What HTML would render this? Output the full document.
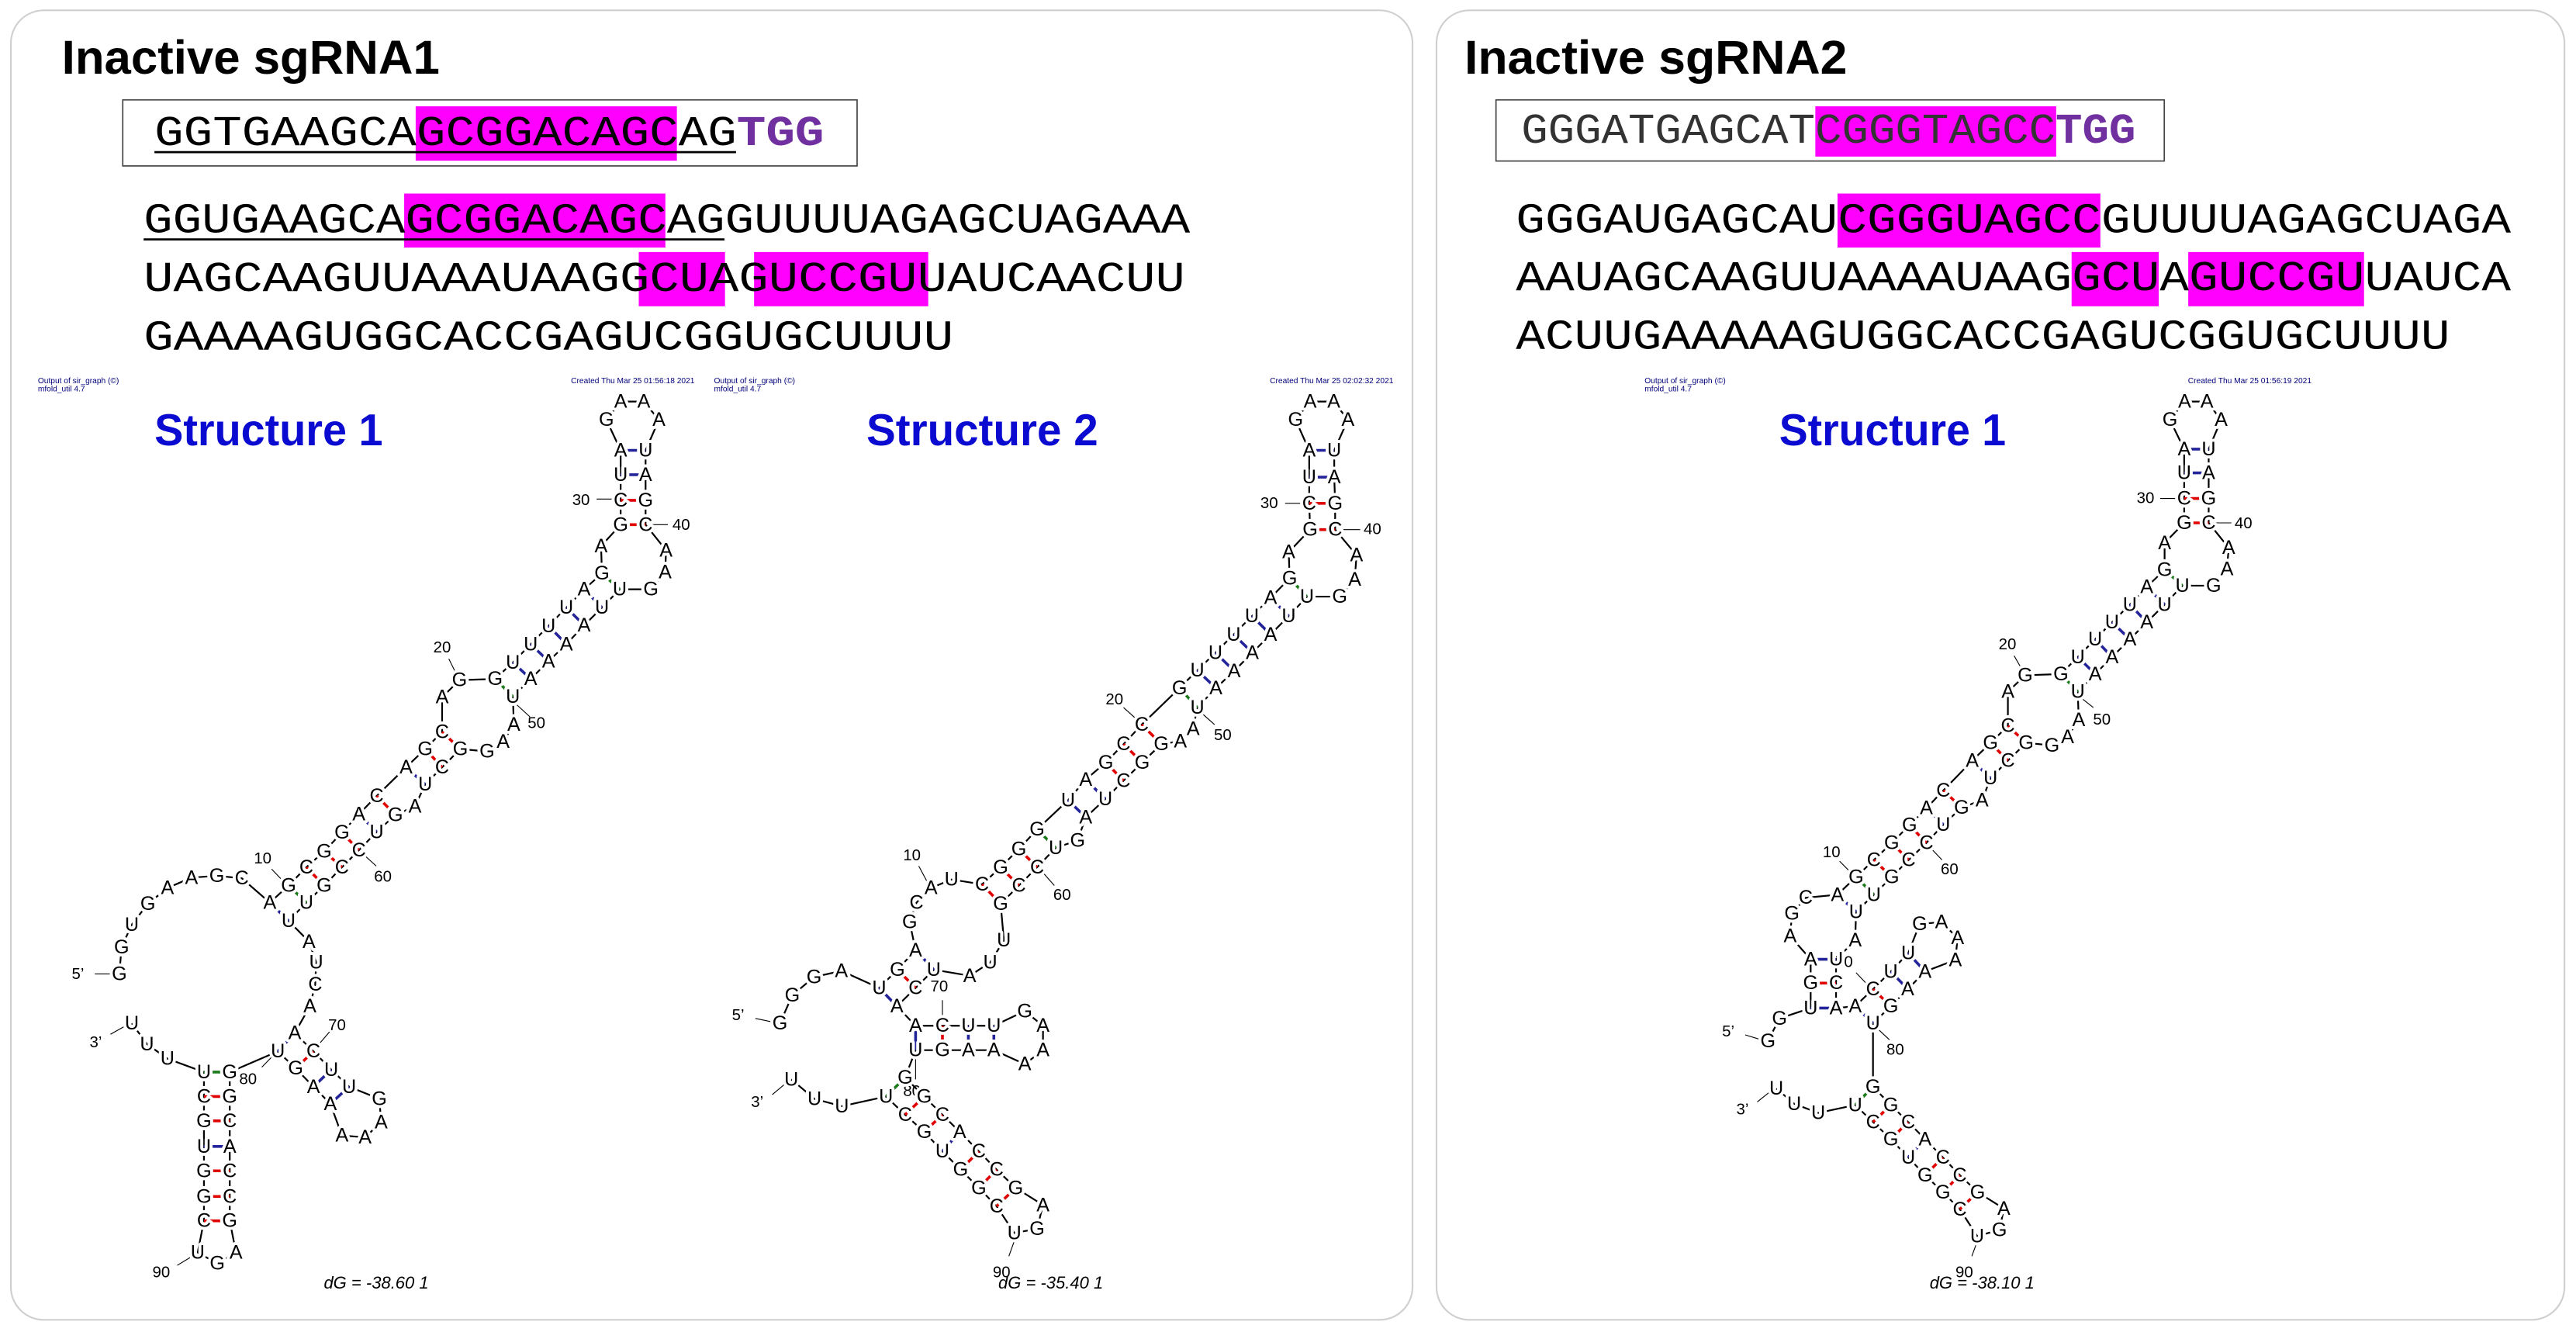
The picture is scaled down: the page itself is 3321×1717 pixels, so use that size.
<!DOCTYPE html>
<html><head><meta charset="utf-8"><style>
html,body{margin:0;padding:0;background:#fff}
svg{display:block}
.nt{font-family:"Liberation Sans",Arial,sans-serif;font-size:32px;text-anchor:middle;dominant-baseline:central;fill:#000;stroke:#fff;stroke-width:10px;paint-order:stroke;stroke-linejoin:round}
.num{font-family:"Liberation Sans",Arial,sans-serif;font-size:26px;text-anchor:middle;dominant-baseline:central;fill:#000}
.bb{fill:none;stroke:#000;stroke-width:2.2;vector-effect:non-scaling-stroke;stroke-linejoin:round}
.tk{stroke:#000;stroke-width:1.1;vector-effect:non-scaling-stroke}
.r{stroke:#e00000;stroke-width:3.6;vector-effect:non-scaling-stroke}
.b{stroke:#24249a;stroke-width:3.6;vector-effect:non-scaling-stroke}
.g{stroke:#1d7a1d;stroke-width:3.6;vector-effect:non-scaling-stroke}
.hd{font-family:"Liberation Sans",Arial,sans-serif;font-size:13px;fill:#00007a}
.dg{font-family:"Liberation Sans",Arial,sans-serif;font-size:28px;font-style:italic;text-anchor:middle;fill:#000}
.ttl{font-family:"Liberation Sans",Arial,sans-serif;font-weight:bold;fill:#000}
.st{font-family:"Liberation Sans",Arial,sans-serif;font-weight:bold;fill:#0a0ad0}
.seq{font-family:"Liberation Mono","Courier New",monospace;fill:#000}
</style></head><body>
<svg width="3321" height="1717" viewBox="0 0 1568 810.7" xmlns="http://www.w3.org/2000/svg">
<rect x="0" y="0" width="1568" height="811" fill="#fff"/>
<rect x="6.6" y="6.3" width="853.2" height="797" rx="20" fill="none" stroke="#cfcfcf" stroke-width="1"/>
<rect x="874.4" y="6.3" width="686.6" height="797" rx="20" fill="none" stroke="#cfcfcf" stroke-width="1"/>

<text class="ttl" x="37.6" y="44.8" font-size="29" textLength="230" lengthAdjust="spacingAndGlyphs">Inactive sgRNA1</text>
<rect x="74.7" y="60.8" width="447" height="40.2" fill="none" stroke="#444" stroke-width="0.8"/>
<rect x="253" y="64.7" width="159" height="33.1" fill="#ff00ff"/>
<text class="seq" x="94" y="88.3" font-size="26" textLength="407.6" lengthAdjust="spacingAndGlyphs">GGTGAAGCAGCGGACAGCAG<tspan fill="#7030a0" font-weight="bold">TGG</tspan></text>
<line x1="94" y1="92.6" x2="448" y2="92.6" stroke="#000" stroke-width="1.3"/>

<rect x="246" y="117.8" width="159" height="32.9" fill="#ff00ff"/>
<rect x="388.8" y="153.4" width="52.5" height="33" fill="#ff00ff"/>
<rect x="459" y="153.4" width="106" height="33" fill="#ff00ff"/>
<text class="seq" x="87.4" y="141.3" font-size="26" textLength="637" lengthAdjust="spacingAndGlyphs">GGUGAAGCAGCGGACAGCAGGUUUUAGAGCUAGAAA</text>
<line x1="87.4" y1="145.7" x2="441" y2="145.7" stroke="#000" stroke-width="1.3"/>
<text class="seq" x="87.4" y="177" font-size="26" textLength="634" lengthAdjust="spacingAndGlyphs">UAGCAAGUUAAAUAAGGCUAGUCCGUUAUCAACUU</text>
<text class="seq" x="87.4" y="212.7" font-size="26" textLength="493" lengthAdjust="spacingAndGlyphs">GAAAAGUGGCACCGAGUCGGUGCUUUU</text>

<text class="ttl" x="891.4" y="44.8" font-size="29" textLength="233" lengthAdjust="spacingAndGlyphs">Inactive sgRNA2</text>
<rect x="910.6" y="60.8" width="406.8" height="37.2" fill="none" stroke="#444" stroke-width="0.8"/>
<rect x="1105" y="64.7" width="146.6" height="30.6" fill="#ff00ff"/>
<text class="seq" x="926" y="86.8" font-size="26" fill="#333" textLength="374" lengthAdjust="spacingAndGlyphs"><tspan fill="#333">GGGATGAGCATCGGGTAGCC</tspan><tspan fill="#7030a0" font-weight="bold">TGG</tspan></text>
<rect x="1118.5" y="117.8" width="160" height="32.9" fill="#ff00ff"/>
<rect x="1261" y="153.4" width="53" height="33" fill="#ff00ff"/>
<rect x="1332" y="153.4" width="107" height="33" fill="#ff00ff"/>
<text class="seq" x="922.7" y="141.3" font-size="26" textLength="605.7" lengthAdjust="spacingAndGlyphs">GGGAUGAGCAUCGGGUAGCCGUUUUAGAGCUAGA</text>
<text class="seq" x="922.7" y="176.6" font-size="26" textLength="605.7" lengthAdjust="spacingAndGlyphs">AAUAGCAAGUUAAAAUAAGGCUAGUCCGUUAUCA</text>
<text class="seq" x="922.7" y="212.3" font-size="26" textLength="568.6" lengthAdjust="spacingAndGlyphs">ACUUGAAAAAGUGGCACCGAGUCGGUGCUUUU</text>

<text class="st" x="94" y="271" font-size="27" textLength="139" lengthAdjust="spacingAndGlyphs">Structure 1</text>
<text class="st" x="527.4" y="271" font-size="27" textLength="141" lengthAdjust="spacingAndGlyphs">Structure 2</text>
<text class="st" x="1083" y="271" font-size="27" textLength="138" lengthAdjust="spacingAndGlyphs">Structure 1</text>

<g transform="translate(0 226.6) scale(0.271 0.371)">
<text class="hd" transform="translate(85 18) scale(1.37 1)">Output of sir_graph (©)</text>
<text class="hd" transform="translate(85 31) scale(1.37 1)">mfold_util 4.7</text>
<text class="hd" transform="translate(1560 18) scale(1.37 1)" text-anchor="end">Created Thu Mar 25 01:56:18 2021</text>
<polyline class="bb" points="268,987 273,943 296,906 332,872 376,846 430,829 487,826 543,830 606,870 648,842 688,812 728,786 768,755 806,725 846,695 912,648 955,618 993,590 993,533 1032,505 1112,503 1152,476 1192,446 1232,416 1272,386 1312,356 1352,330 1350,285 1394,250 1394,210 1394,168 1394,128 1362,78 1394,48 1446,48 1480,78 1450,128 1450,168 1450,210 1450,250 1496,292 1494,328 1462,356 1392,356 1352,386 1312,415 1272,446 1232,474 1192,503 1152,532 1154,578 1130,606 1094,622 1034,618 993,648 955,676 932,712 888,726 846,754 806,784 768,812 728,842 688,870 648,900 694,934 710,968 708,1004 696,1040 662,1084 704,1114 744,1144 784,1172 852,1192 856,1230 820,1255 768,1252 742,1200 704,1172 664,1142 624,1114 516,1148 516,1188 516,1228 516,1270 516,1310 516,1352 516,1392 530,1444 488,1462 444,1444 458,1392 458,1352 458,1310 458,1270 458,1228 458,1188 458,1148 376,1126 330,1102 296,1068"/>
<line class="b" x1="606" y1="870" x2="648" y2="900"/>
<line class="g" x1="648" y1="842" x2="688" y2="870"/>
<line class="r" x1="688" y1="812" x2="728" y2="842"/>
<line class="r" x1="728" y1="786" x2="768" y2="812"/>
<line class="r" x1="768" y1="755" x2="806" y2="784"/>
<line class="b" x1="806" y1="725" x2="846" y2="754"/>
<line class="r" x1="846" y1="695" x2="888" y2="726"/>
<line class="b" x1="912" y1="648" x2="955" y2="676"/>
<line class="r" x1="955" y1="618" x2="993" y2="648"/>
<line class="r" x1="993" y1="590" x2="1034" y2="618"/>
<line class="g" x1="1112" y1="503" x2="1152" y2="532"/>
<line class="b" x1="1152" y1="476" x2="1192" y2="503"/>
<line class="b" x1="1192" y1="446" x2="1232" y2="474"/>
<line class="b" x1="1232" y1="416" x2="1272" y2="446"/>
<line class="b" x1="1272" y1="386" x2="1312" y2="415"/>
<line class="b" x1="1312" y1="356" x2="1352" y2="386"/>
<line class="g" x1="1352" y1="330" x2="1392" y2="356"/>
<line class="r" x1="1394" y1="250" x2="1450" y2="250"/>
<line class="r" x1="1394" y1="210" x2="1450" y2="210"/>
<line class="b" x1="1394" y1="168" x2="1450" y2="168"/>
<line class="b" x1="1394" y1="128" x2="1450" y2="128"/>
<line class="b" x1="662" y1="1084" x2="624" y2="1114"/>
<line class="r" x1="704" y1="1114" x2="664" y2="1142"/>
<line class="b" x1="744" y1="1144" x2="704" y2="1172"/>
<line class="b" x1="784" y1="1172" x2="742" y2="1200"/>
<line class="g" x1="516" y1="1148" x2="458" y2="1148"/>
<line class="r" x1="516" y1="1188" x2="458" y2="1188"/>
<line class="r" x1="516" y1="1228" x2="458" y2="1228"/>
<line class="b" x1="516" y1="1270" x2="458" y2="1270"/>
<line class="r" x1="516" y1="1310" x2="458" y2="1310"/>
<line class="r" x1="516" y1="1352" x2="458" y2="1352"/>
<line class="r" x1="516" y1="1392" x2="458" y2="1392"/>
<line class="tk" x1="610" y1="815" x2="640" y2="838"/>
<line class="tk" x1="1008" y1="470" x2="1025" y2="495"/>
<line class="tk" x1="1340" y1="208" x2="1378" y2="208"/>
<line class="tk" x1="1465" y1="250" x2="1500" y2="250"/>
<line class="tk" x1="1160" y1="545" x2="1190" y2="565"/>
<line class="tk" x1="815" y1="790" x2="845" y2="810"/>
<line class="tk" x1="740" y1="1082" x2="712" y2="1106"/>
<line class="tk" x1="588" y1="1140" x2="612" y2="1122"/>
<line class="tk" x1="398" y1="1465" x2="432" y2="1450"/>
<line class="tk" x1="213" y1="987" x2="252" y2="987"/>
<line class="tk" x1="248" y1="1086" x2="282" y2="1072"/>
<g class="num">
<text transform="translate(590 798) scale(1.37 1)">10</text>
<text transform="translate(993 452) scale(1.37 1)">20</text>
<text transform="translate(1305 210) scale(1.37 1)">30</text>
<text transform="translate(1530 251) scale(1.37 1)">40</text>
<text transform="translate(1205 576) scale(1.37 1)">50</text>
<text transform="translate(860 828) scale(1.37 1)">60</text>
<text transform="translate(757 1072) scale(1.37 1)">70</text>
<text transform="translate(557 1160) scale(1.37 1)">80</text>
<text transform="translate(362 1477) scale(1.37 1)">90</text>
<text transform="translate(175 988) scale(1.37 1)">5’</text>
<text transform="translate(215 1100) scale(1.37 1)">3’</text>
</g>
<g class="nt">
<text transform="translate(268 987) scale(1.37 1)">G</text>
<text transform="translate(273 943) scale(1.37 1)">G</text>
<text transform="translate(296 906) scale(1.37 1)">U</text>
<text transform="translate(332 872) scale(1.37 1)">G</text>
<text transform="translate(376 846) scale(1.37 1)">A</text>
<text transform="translate(430 829) scale(1.37 1)">A</text>
<text transform="translate(487 826) scale(1.37 1)">G</text>
<text transform="translate(543 830) scale(1.37 1)">C</text>
<text transform="translate(606 870) scale(1.37 1)">A</text>
<text transform="translate(648 842) scale(1.37 1)">G</text>
<text transform="translate(688 812) scale(1.37 1)">C</text>
<text transform="translate(728 786) scale(1.37 1)">G</text>
<text transform="translate(768 755) scale(1.37 1)">G</text>
<text transform="translate(806 725) scale(1.37 1)">A</text>
<text transform="translate(846 695) scale(1.37 1)">C</text>
<text transform="translate(912 648) scale(1.37 1)">A</text>
<text transform="translate(955 618) scale(1.37 1)">G</text>
<text transform="translate(993 590) scale(1.37 1)">C</text>
<text transform="translate(993 533) scale(1.37 1)">A</text>
<text transform="translate(1032 505) scale(1.37 1)">G</text>
<text transform="translate(1112 503) scale(1.37 1)">G</text>
<text transform="translate(1152 476) scale(1.37 1)">U</text>
<text transform="translate(1192 446) scale(1.37 1)">U</text>
<text transform="translate(1232 416) scale(1.37 1)">U</text>
<text transform="translate(1272 386) scale(1.37 1)">U</text>
<text transform="translate(1312 356) scale(1.37 1)">A</text>
<text transform="translate(1352 330) scale(1.37 1)">G</text>
<text transform="translate(1350 285) scale(1.37 1)">A</text>
<text transform="translate(1394 250) scale(1.37 1)">G</text>
<text transform="translate(1394 210) scale(1.37 1)">C</text>
<text transform="translate(1394 168) scale(1.37 1)">U</text>
<text transform="translate(1394 128) scale(1.37 1)">A</text>
<text transform="translate(1362 78) scale(1.37 1)">G</text>
<text transform="translate(1394 48) scale(1.37 1)">A</text>
<text transform="translate(1446 48) scale(1.37 1)">A</text>
<text transform="translate(1480 78) scale(1.37 1)">A</text>
<text transform="translate(1450 128) scale(1.37 1)">U</text>
<text transform="translate(1450 168) scale(1.37 1)">A</text>
<text transform="translate(1450 210) scale(1.37 1)">G</text>
<text transform="translate(1450 250) scale(1.37 1)">C</text>
<text transform="translate(1496 292) scale(1.37 1)">A</text>
<text transform="translate(1494 328) scale(1.37 1)">A</text>
<text transform="translate(1462 356) scale(1.37 1)">G</text>
<text transform="translate(1392 356) scale(1.37 1)">U</text>
<text transform="translate(1352 386) scale(1.37 1)">U</text>
<text transform="translate(1312 415) scale(1.37 1)">A</text>
<text transform="translate(1272 446) scale(1.37 1)">A</text>
<text transform="translate(1232 474) scale(1.37 1)">A</text>
<text transform="translate(1192 503) scale(1.37 1)">A</text>
<text transform="translate(1152 532) scale(1.37 1)">U</text>
<text transform="translate(1154 578) scale(1.37 1)">A</text>
<text transform="translate(1130 606) scale(1.37 1)">A</text>
<text transform="translate(1094 622) scale(1.37 1)">G</text>
<text transform="translate(1034 618) scale(1.37 1)">G</text>
<text transform="translate(993 648) scale(1.37 1)">C</text>
<text transform="translate(955 676) scale(1.37 1)">U</text>
<text transform="translate(932 712) scale(1.37 1)">A</text>
<text transform="translate(888 726) scale(1.37 1)">G</text>
<text transform="translate(846 754) scale(1.37 1)">U</text>
<text transform="translate(806 784) scale(1.37 1)">C</text>
<text transform="translate(768 812) scale(1.37 1)">C</text>
<text transform="translate(728 842) scale(1.37 1)">G</text>
<text transform="translate(688 870) scale(1.37 1)">U</text>
<text transform="translate(648 900) scale(1.37 1)">U</text>
<text transform="translate(694 934) scale(1.37 1)">A</text>
<text transform="translate(710 968) scale(1.37 1)">U</text>
<text transform="translate(708 1004) scale(1.37 1)">C</text>
<text transform="translate(696 1040) scale(1.37 1)">A</text>
<text transform="translate(662 1084) scale(1.37 1)">A</text>
<text transform="translate(704 1114) scale(1.37 1)">C</text>
<text transform="translate(744 1144) scale(1.37 1)">U</text>
<text transform="translate(784 1172) scale(1.37 1)">U</text>
<text transform="translate(852 1192) scale(1.37 1)">G</text>
<text transform="translate(856 1230) scale(1.37 1)">A</text>
<text transform="translate(820 1255) scale(1.37 1)">A</text>
<text transform="translate(768 1252) scale(1.37 1)">A</text>
<text transform="translate(742 1200) scale(1.37 1)">A</text>
<text transform="translate(704 1172) scale(1.37 1)">A</text>
<text transform="translate(664 1142) scale(1.37 1)">G</text>
<text transform="translate(624 1114) scale(1.37 1)">U</text>
<text transform="translate(516 1148) scale(1.37 1)">G</text>
<text transform="translate(516 1188) scale(1.37 1)">G</text>
<text transform="translate(516 1228) scale(1.37 1)">C</text>
<text transform="translate(516 1270) scale(1.37 1)">A</text>
<text transform="translate(516 1310) scale(1.37 1)">C</text>
<text transform="translate(516 1352) scale(1.37 1)">C</text>
<text transform="translate(516 1392) scale(1.37 1)">G</text>
<text transform="translate(530 1444) scale(1.37 1)">A</text>
<text transform="translate(488 1462) scale(1.37 1)">G</text>
<text transform="translate(444 1444) scale(1.37 1)">U</text>
<text transform="translate(458 1392) scale(1.37 1)">C</text>
<text transform="translate(458 1352) scale(1.37 1)">G</text>
<text transform="translate(458 1310) scale(1.37 1)">G</text>
<text transform="translate(458 1270) scale(1.37 1)">U</text>
<text transform="translate(458 1228) scale(1.37 1)">G</text>
<text transform="translate(458 1188) scale(1.37 1)">C</text>
<text transform="translate(458 1148) scale(1.37 1)">U</text>
<text transform="translate(376 1126) scale(1.37 1)">U</text>
<text transform="translate(330 1102) scale(1.37 1)">U</text>
<text transform="translate(296 1068) scale(1.37 1)">U</text>
</g>
<text class="dg" transform="translate(845 1503) scale(1.37 1)">dG = -38.60 1</text>
</g>

<g transform="translate(424.9 226.6) scale(0.277 0.371)">
<text class="hd" transform="translate(35 18) scale(1.34 1)">Output of sir_graph (©)</text>
<text class="hd" transform="translate(35 31) scale(1.34 1)">mfold_util 4.7</text>
<text class="hd" transform="translate(1528 18) scale(1.34 1)" text-anchor="end">Created Thu Mar 25 02:02:32 2021</text>
<polyline class="bb" points="180,1068 207,1022 255,992 315,982 398,1010 438,980 478,948 465,902 480,870 512,846 557,832 624,840 665,812 705,782 745,750 813,702 852,668 896,640 935,610 975,578 1058,518 1097,489 1137,460 1177,430 1217,400 1258,370 1300,338 1298,295 1345,258 1343,215 1343,172 1343,128 1313,78 1345,48 1397,48 1428,78 1398,128 1398,172 1400,215 1400,258 1447,300 1443,340 1410,368 1338,368 1298,400 1258,430 1218,460 1178,490 1138,518 1097,550 1088,585 1060,605 1018,610 976,640 935,670 895,700 852,730 834,768 786,780 745,812 705,842 665,872 672,932 642,968 597,990 518,980 478,1010 437,1040 478,1072 537,1072 594,1072 650,1072 718,1048 758,1072 758,1112 718,1135 650,1112 594,1112 537,1112 478,1112 455,1157 497,1188 537,1218 575,1246 617,1278 656,1308 698,1338 758,1366 745,1405 695,1412 656,1368 617,1338 577,1308 537,1278 497,1246 455,1218 413,1188 316,1204 256,1192 205,1160"/>
<line class="b" x1="398" y1="1010" x2="437" y2="1040"/>
<line class="r" x1="438" y1="980" x2="478" y2="1010"/>
<line class="b" x1="478" y1="948" x2="518" y2="980"/>
<line class="r" x1="624" y1="840" x2="665" y2="872"/>
<line class="r" x1="665" y1="812" x2="705" y2="842"/>
<line class="r" x1="705" y1="782" x2="745" y2="812"/>
<line class="g" x1="745" y1="750" x2="786" y2="780"/>
<line class="b" x1="813" y1="702" x2="852" y2="730"/>
<line class="b" x1="852" y1="668" x2="895" y2="700"/>
<line class="r" x1="896" y1="640" x2="935" y2="670"/>
<line class="r" x1="935" y1="610" x2="976" y2="640"/>
<line class="r" x1="975" y1="578" x2="1018" y2="610"/>
<line class="g" x1="1058" y1="518" x2="1097" y2="550"/>
<line class="b" x1="1097" y1="489" x2="1138" y2="518"/>
<line class="b" x1="1137" y1="460" x2="1178" y2="490"/>
<line class="b" x1="1177" y1="430" x2="1218" y2="460"/>
<line class="b" x1="1217" y1="400" x2="1258" y2="430"/>
<line class="b" x1="1258" y1="370" x2="1298" y2="400"/>
<line class="g" x1="1300" y1="338" x2="1338" y2="368"/>
<line class="r" x1="1345" y1="258" x2="1400" y2="258"/>
<line class="r" x1="1343" y1="215" x2="1400" y2="215"/>
<line class="b" x1="1343" y1="172" x2="1398" y2="172"/>
<line class="b" x1="1343" y1="128" x2="1398" y2="128"/>
<line class="b" x1="478" y1="1072" x2="478" y2="1112"/>
<line class="r" x1="537" y1="1072" x2="537" y2="1112"/>
<line class="b" x1="594" y1="1072" x2="594" y2="1112"/>
<line class="b" x1="650" y1="1072" x2="650" y2="1112"/>
<line class="g" x1="455" y1="1157" x2="413" y2="1188"/>
<line class="r" x1="497" y1="1188" x2="455" y2="1218"/>
<line class="r" x1="537" y1="1218" x2="497" y2="1246"/>
<line class="b" x1="575" y1="1246" x2="537" y2="1278"/>
<line class="r" x1="617" y1="1278" x2="577" y2="1308"/>
<line class="r" x1="656" y1="1308" x2="617" y2="1338"/>
<line class="r" x1="698" y1="1338" x2="656" y2="1368"/>
<line class="tk" x1="485" y1="810" x2="505" y2="838"/>
<line class="tk" x1="935" y1="550" x2="965" y2="570"/>
<line class="tk" x1="1290" y1="215" x2="1325" y2="215"/>
<line class="tk" x1="1418" y1="258" x2="1455" y2="258"/>
<line class="tk" x1="1108" y1="560" x2="1135" y2="578"/>
<line class="tk" x1="757" y1="820" x2="783" y2="842"/>
<line class="tk" x1="537" y1="1030" x2="537" y2="1060"/>
<line class="tk" x1="478" y1="1125" x2="478" y2="1160"/>
<line class="tk" x1="695" y1="1425" x2="683" y2="1450"/>
<line class="tk" x1="126" y1="1060" x2="165" y2="1066"/>
<line class="tk" x1="163" y1="1185" x2="195" y2="1165"/>
<g class="num">
<text transform="translate(470 793) scale(1.34 1)">10</text>
<text transform="translate(915 537) scale(1.34 1)">20</text>
<text transform="translate(1255 215) scale(1.34 1)">30</text>
<text transform="translate(1482 258) scale(1.34 1)">40</text>
<text transform="translate(1153 596) scale(1.34 1)">50</text>
<text transform="translate(800 858) scale(1.34 1)">60</text>
<text transform="translate(530 1008) scale(1.34 1)">70</text>
<text transform="translate(470 1180) scale(1.34 1)">80</text>
<text transform="translate(667 1477) scale(1.34 1)">90</text>
<text transform="translate(88 1055) scale(1.34 1)">5’</text>
<text transform="translate(130 1198) scale(1.34 1)">3’</text>
</g>
<g class="nt">
<text transform="translate(180 1068) scale(1.34 1)">G</text>
<text transform="translate(207 1022) scale(1.34 1)">G</text>
<text transform="translate(255 992) scale(1.34 1)">G</text>
<text transform="translate(315 982) scale(1.34 1)">A</text>
<text transform="translate(398 1010) scale(1.34 1)">U</text>
<text transform="translate(438 980) scale(1.34 1)">G</text>
<text transform="translate(478 948) scale(1.34 1)">A</text>
<text transform="translate(465 902) scale(1.34 1)">G</text>
<text transform="translate(480 870) scale(1.34 1)">C</text>
<text transform="translate(512 846) scale(1.34 1)">A</text>
<text transform="translate(557 832) scale(1.34 1)">U</text>
<text transform="translate(624 840) scale(1.34 1)">C</text>
<text transform="translate(665 812) scale(1.34 1)">G</text>
<text transform="translate(705 782) scale(1.34 1)">G</text>
<text transform="translate(745 750) scale(1.34 1)">G</text>
<text transform="translate(813 702) scale(1.34 1)">U</text>
<text transform="translate(852 668) scale(1.34 1)">A</text>
<text transform="translate(896 640) scale(1.34 1)">G</text>
<text transform="translate(935 610) scale(1.34 1)">C</text>
<text transform="translate(975 578) scale(1.34 1)">C</text>
<text transform="translate(1058 518) scale(1.34 1)">G</text>
<text transform="translate(1097 489) scale(1.34 1)">U</text>
<text transform="translate(1137 460) scale(1.34 1)">U</text>
<text transform="translate(1177 430) scale(1.34 1)">U</text>
<text transform="translate(1217 400) scale(1.34 1)">U</text>
<text transform="translate(1258 370) scale(1.34 1)">A</text>
<text transform="translate(1300 338) scale(1.34 1)">G</text>
<text transform="translate(1298 295) scale(1.34 1)">A</text>
<text transform="translate(1345 258) scale(1.34 1)">G</text>
<text transform="translate(1343 215) scale(1.34 1)">C</text>
<text transform="translate(1343 172) scale(1.34 1)">U</text>
<text transform="translate(1343 128) scale(1.34 1)">A</text>
<text transform="translate(1313 78) scale(1.34 1)">G</text>
<text transform="translate(1345 48) scale(1.34 1)">A</text>
<text transform="translate(1397 48) scale(1.34 1)">A</text>
<text transform="translate(1428 78) scale(1.34 1)">A</text>
<text transform="translate(1398 128) scale(1.34 1)">U</text>
<text transform="translate(1398 172) scale(1.34 1)">A</text>
<text transform="translate(1400 215) scale(1.34 1)">G</text>
<text transform="translate(1400 258) scale(1.34 1)">C</text>
<text transform="translate(1447 300) scale(1.34 1)">A</text>
<text transform="translate(1443 340) scale(1.34 1)">A</text>
<text transform="translate(1410 368) scale(1.34 1)">G</text>
<text transform="translate(1338 368) scale(1.34 1)">U</text>
<text transform="translate(1298 400) scale(1.34 1)">U</text>
<text transform="translate(1258 430) scale(1.34 1)">A</text>
<text transform="translate(1218 460) scale(1.34 1)">A</text>
<text transform="translate(1178 490) scale(1.34 1)">A</text>
<text transform="translate(1138 518) scale(1.34 1)">A</text>
<text transform="translate(1097 550) scale(1.34 1)">U</text>
<text transform="translate(1088 585) scale(1.34 1)">A</text>
<text transform="translate(1060 605) scale(1.34 1)">A</text>
<text transform="translate(1018 610) scale(1.34 1)">G</text>
<text transform="translate(976 640) scale(1.34 1)">G</text>
<text transform="translate(935 670) scale(1.34 1)">C</text>
<text transform="translate(895 700) scale(1.34 1)">U</text>
<text transform="translate(852 730) scale(1.34 1)">A</text>
<text transform="translate(834 768) scale(1.34 1)">G</text>
<text transform="translate(786 780) scale(1.34 1)">U</text>
<text transform="translate(745 812) scale(1.34 1)">C</text>
<text transform="translate(705 842) scale(1.34 1)">C</text>
<text transform="translate(665 872) scale(1.34 1)">G</text>
<text transform="translate(672 932) scale(1.34 1)">U</text>
<text transform="translate(642 968) scale(1.34 1)">U</text>
<text transform="translate(597 990) scale(1.34 1)">A</text>
<text transform="translate(518 980) scale(1.34 1)">U</text>
<text transform="translate(478 1010) scale(1.34 1)">C</text>
<text transform="translate(437 1040) scale(1.34 1)">A</text>
<text transform="translate(478 1072) scale(1.34 1)">A</text>
<text transform="translate(537 1072) scale(1.34 1)">C</text>
<text transform="translate(594 1072) scale(1.34 1)">U</text>
<text transform="translate(650 1072) scale(1.34 1)">U</text>
<text transform="translate(718 1048) scale(1.34 1)">G</text>
<text transform="translate(758 1072) scale(1.34 1)">A</text>
<text transform="translate(758 1112) scale(1.34 1)">A</text>
<text transform="translate(718 1135) scale(1.34 1)">A</text>
<text transform="translate(650 1112) scale(1.34 1)">A</text>
<text transform="translate(594 1112) scale(1.34 1)">A</text>
<text transform="translate(537 1112) scale(1.34 1)">G</text>
<text transform="translate(478 1112) scale(1.34 1)">U</text>
<text transform="translate(455 1157) scale(1.34 1)">G</text>
<text transform="translate(497 1188) scale(1.34 1)">G</text>
<text transform="translate(537 1218) scale(1.34 1)">C</text>
<text transform="translate(575 1246) scale(1.34 1)">A</text>
<text transform="translate(617 1278) scale(1.34 1)">C</text>
<text transform="translate(656 1308) scale(1.34 1)">C</text>
<text transform="translate(698 1338) scale(1.34 1)">G</text>
<text transform="translate(758 1366) scale(1.34 1)">A</text>
<text transform="translate(745 1405) scale(1.34 1)">G</text>
<text transform="translate(695 1412) scale(1.34 1)">U</text>
<text transform="translate(656 1368) scale(1.34 1)">C</text>
<text transform="translate(617 1338) scale(1.34 1)">G</text>
<text transform="translate(577 1308) scale(1.34 1)">G</text>
<text transform="translate(537 1278) scale(1.34 1)">U</text>
<text transform="translate(497 1246) scale(1.34 1)">G</text>
<text transform="translate(455 1218) scale(1.34 1)">C</text>
<text transform="translate(413 1188) scale(1.34 1)">U</text>
<text transform="translate(316 1204) scale(1.34 1)">U</text>
<text transform="translate(256 1192) scale(1.34 1)">U</text>
<text transform="translate(205 1160) scale(1.34 1)">U</text>
</g>
<text class="dg" transform="translate(775 1503) scale(1.34 1)">dG = -35.40 1</text>
</g>

<g transform="translate(982.1 226.6) scale(0.271 0.371)">
<text class="hd" transform="translate(70 18) scale(1.37 1)">Output of sir_graph (©)</text>
<text class="hd" transform="translate(70 31) scale(1.37 1)">mfold_util 4.7</text>
<text class="hd" transform="translate(1568 18) scale(1.37 1)" text-anchor="end">Created Thu Mar 25 01:56:19 2021</text>
<polyline class="bb" points="347,1097 373,1060 443,1043 443,1002 443,963 397,925 401,888 432,862 503,857 545,828 585,800 625,772 665,743 703,715 741,686 806,637 847,608 886,580 886,524 925,497 1005,495 1043,467 1082,438 1120,410 1160,381 1198,352 1238,324 1238,280 1282,247 1282,207 1282,165 1282,126 1250,78 1283,48 1333,48 1365,78 1337,126 1337,165 1337,207 1337,247 1382,288 1378,323 1348,350 1278,350 1238,381 1198,410 1160,438 1120,467 1082,495 1043,524 1045,570 1020,598 985,612 927,608 886,637 847,666 828,702 782,714 741,742 703,772 663,800 625,828 585,857 545,885 543,932 500,963 500,1002 500,1043 543,1040 583,1012 623,983 662,953 688,905 737,902 773,928 768,964 700,983 661,1012 623,1040 583,1068 583,1172 623,1202 662,1230 700,1258 740,1288 778,1317 818,1345 877,1372 867,1407 817,1417 778,1373 740,1345 700,1317 662,1288 623,1258 583,1230 543,1202 460,1215 406,1200 366,1175"/>
<line class="b" x1="443" y1="1043" x2="500" y2="1043"/>
<line class="r" x1="443" y1="1002" x2="500" y2="1002"/>
<line class="b" x1="443" y1="963" x2="500" y2="963"/>
<line class="b" x1="503" y1="857" x2="545" y2="885"/>
<line class="g" x1="545" y1="828" x2="585" y2="857"/>
<line class="r" x1="585" y1="800" x2="625" y2="828"/>
<line class="r" x1="625" y1="772" x2="663" y2="800"/>
<line class="r" x1="665" y1="743" x2="703" y2="772"/>
<line class="b" x1="703" y1="715" x2="741" y2="742"/>
<line class="r" x1="741" y1="686" x2="782" y2="714"/>
<line class="b" x1="806" y1="637" x2="847" y2="666"/>
<line class="r" x1="847" y1="608" x2="886" y2="637"/>
<line class="r" x1="886" y1="580" x2="927" y2="608"/>
<line class="g" x1="1005" y1="495" x2="1043" y2="524"/>
<line class="b" x1="1043" y1="467" x2="1082" y2="495"/>
<line class="b" x1="1082" y1="438" x2="1120" y2="467"/>
<line class="b" x1="1120" y1="410" x2="1160" y2="438"/>
<line class="b" x1="1160" y1="381" x2="1198" y2="410"/>
<line class="b" x1="1198" y1="352" x2="1238" y2="381"/>
<line class="g" x1="1238" y1="324" x2="1278" y2="350"/>
<line class="r" x1="1282" y1="247" x2="1337" y2="247"/>
<line class="r" x1="1282" y1="207" x2="1337" y2="207"/>
<line class="b" x1="1282" y1="165" x2="1337" y2="165"/>
<line class="b" x1="1282" y1="126" x2="1337" y2="126"/>
<line class="b" x1="543" y1="1040" x2="583" y2="1068"/>
<line class="r" x1="583" y1="1012" x2="623" y2="1040"/>
<line class="b" x1="623" y1="983" x2="661" y2="1012"/>
<line class="b" x1="662" y1="953" x2="700" y2="983"/>
<line class="g" x1="583" y1="1172" x2="543" y2="1202"/>
<line class="r" x1="623" y1="1202" x2="583" y2="1230"/>
<line class="r" x1="662" y1="1230" x2="623" y2="1258"/>
<line class="b" x1="700" y1="1258" x2="662" y2="1288"/>
<line class="r" x1="740" y1="1288" x2="700" y2="1317"/>
<line class="r" x1="778" y1="1317" x2="740" y2="1345"/>
<line class="r" x1="818" y1="1345" x2="778" y2="1373"/>
<line class="tk" x1="508" y1="802" x2="535" y2="822"/>
<line class="tk" x1="900" y1="465" x2="918" y2="488"/>
<line class="tk" x1="1228" y1="207" x2="1265" y2="207"/>
<line class="tk" x1="1352" y1="247" x2="1388" y2="247"/>
<line class="tk" x1="1052" y1="535" x2="1078" y2="550"/>
<line class="tk" x1="712" y1="780" x2="738" y2="800"/>
<line class="tk" x1="545" y1="985" x2="575" y2="1008"/>
<line class="tk" x1="595" y1="1078" x2="620" y2="1095"/>
<line class="tk" x1="815" y1="1430" x2="805" y2="1450"/>
<line class="tk" x1="296" y1="1087" x2="332" y2="1095"/>
<line class="tk" x1="323" y1="1197" x2="352" y2="1180"/>
<g class="num">
<text transform="translate(490 788) scale(1.37 1)">10</text>
<text transform="translate(885 447) scale(1.37 1)">20</text>
<text transform="translate(1195 207) scale(1.37 1)">30</text>
<text transform="translate(1415 248) scale(1.37 1)">40</text>
<text transform="translate(1097 570) scale(1.37 1)">50</text>
<text transform="translate(755 816) scale(1.37 1)">60</text>
<text transform="translate(518 968) scale(1.37 1)">70</text>
<text transform="translate(633 1112) scale(1.37 1)">80</text>
<text transform="translate(788 1477) scale(1.37 1)">90</text>
<text transform="translate(258 1082) scale(1.37 1)">5’</text>
<text transform="translate(290 1210) scale(1.37 1)">3’</text>
</g>
<g class="nt">
<text transform="translate(347 1097) scale(1.37 1)">G</text>
<text transform="translate(373 1060) scale(1.37 1)">G</text>
<text transform="translate(443 1043) scale(1.37 1)">U</text>
<text transform="translate(443 1002) scale(1.37 1)">G</text>
<text transform="translate(443 963) scale(1.37 1)">A</text>
<text transform="translate(397 925) scale(1.37 1)">A</text>
<text transform="translate(401 888) scale(1.37 1)">G</text>
<text transform="translate(432 862) scale(1.37 1)">C</text>
<text transform="translate(503 857) scale(1.37 1)">A</text>
<text transform="translate(545 828) scale(1.37 1)">G</text>
<text transform="translate(585 800) scale(1.37 1)">C</text>
<text transform="translate(625 772) scale(1.37 1)">G</text>
<text transform="translate(665 743) scale(1.37 1)">G</text>
<text transform="translate(703 715) scale(1.37 1)">A</text>
<text transform="translate(741 686) scale(1.37 1)">C</text>
<text transform="translate(806 637) scale(1.37 1)">A</text>
<text transform="translate(847 608) scale(1.37 1)">G</text>
<text transform="translate(886 580) scale(1.37 1)">C</text>
<text transform="translate(886 524) scale(1.37 1)">A</text>
<text transform="translate(925 497) scale(1.37 1)">G</text>
<text transform="translate(1005 495) scale(1.37 1)">G</text>
<text transform="translate(1043 467) scale(1.37 1)">U</text>
<text transform="translate(1082 438) scale(1.37 1)">U</text>
<text transform="translate(1120 410) scale(1.37 1)">U</text>
<text transform="translate(1160 381) scale(1.37 1)">U</text>
<text transform="translate(1198 352) scale(1.37 1)">A</text>
<text transform="translate(1238 324) scale(1.37 1)">G</text>
<text transform="translate(1238 280) scale(1.37 1)">A</text>
<text transform="translate(1282 247) scale(1.37 1)">G</text>
<text transform="translate(1282 207) scale(1.37 1)">C</text>
<text transform="translate(1282 165) scale(1.37 1)">U</text>
<text transform="translate(1282 126) scale(1.37 1)">A</text>
<text transform="translate(1250 78) scale(1.37 1)">G</text>
<text transform="translate(1283 48) scale(1.37 1)">A</text>
<text transform="translate(1333 48) scale(1.37 1)">A</text>
<text transform="translate(1365 78) scale(1.37 1)">A</text>
<text transform="translate(1337 126) scale(1.37 1)">U</text>
<text transform="translate(1337 165) scale(1.37 1)">A</text>
<text transform="translate(1337 207) scale(1.37 1)">G</text>
<text transform="translate(1337 247) scale(1.37 1)">C</text>
<text transform="translate(1382 288) scale(1.37 1)">A</text>
<text transform="translate(1378 323) scale(1.37 1)">A</text>
<text transform="translate(1348 350) scale(1.37 1)">G</text>
<text transform="translate(1278 350) scale(1.37 1)">U</text>
<text transform="translate(1238 381) scale(1.37 1)">U</text>
<text transform="translate(1198 410) scale(1.37 1)">A</text>
<text transform="translate(1160 438) scale(1.37 1)">A</text>
<text transform="translate(1120 467) scale(1.37 1)">A</text>
<text transform="translate(1082 495) scale(1.37 1)">A</text>
<text transform="translate(1043 524) scale(1.37 1)">U</text>
<text transform="translate(1045 570) scale(1.37 1)">A</text>
<text transform="translate(1020 598) scale(1.37 1)">A</text>
<text transform="translate(985 612) scale(1.37 1)">G</text>
<text transform="translate(927 608) scale(1.37 1)">G</text>
<text transform="translate(886 637) scale(1.37 1)">C</text>
<text transform="translate(847 666) scale(1.37 1)">U</text>
<text transform="translate(828 702) scale(1.37 1)">A</text>
<text transform="translate(782 714) scale(1.37 1)">G</text>
<text transform="translate(741 742) scale(1.37 1)">U</text>
<text transform="translate(703 772) scale(1.37 1)">C</text>
<text transform="translate(663 800) scale(1.37 1)">C</text>
<text transform="translate(625 828) scale(1.37 1)">G</text>
<text transform="translate(585 857) scale(1.37 1)">U</text>
<text transform="translate(545 885) scale(1.37 1)">U</text>
<text transform="translate(543 932) scale(1.37 1)">A</text>
<text transform="translate(500 963) scale(1.37 1)">U</text>
<text transform="translate(500 1002) scale(1.37 1)">C</text>
<text transform="translate(500 1043) scale(1.37 1)">A</text>
<text transform="translate(543 1040) scale(1.37 1)">A</text>
<text transform="translate(583 1012) scale(1.37 1)">C</text>
<text transform="translate(623 983) scale(1.37 1)">U</text>
<text transform="translate(662 953) scale(1.37 1)">U</text>
<text transform="translate(688 905) scale(1.37 1)">G</text>
<text transform="translate(737 902) scale(1.37 1)">A</text>
<text transform="translate(773 928) scale(1.37 1)">A</text>
<text transform="translate(768 964) scale(1.37 1)">A</text>
<text transform="translate(700 983) scale(1.37 1)">A</text>
<text transform="translate(661 1012) scale(1.37 1)">A</text>
<text transform="translate(623 1040) scale(1.37 1)">G</text>
<text transform="translate(583 1068) scale(1.37 1)">U</text>
<text transform="translate(583 1172) scale(1.37 1)">G</text>
<text transform="translate(623 1202) scale(1.37 1)">G</text>
<text transform="translate(662 1230) scale(1.37 1)">C</text>
<text transform="translate(700 1258) scale(1.37 1)">A</text>
<text transform="translate(740 1288) scale(1.37 1)">C</text>
<text transform="translate(778 1317) scale(1.37 1)">C</text>
<text transform="translate(818 1345) scale(1.37 1)">G</text>
<text transform="translate(877 1372) scale(1.37 1)">A</text>
<text transform="translate(867 1407) scale(1.37 1)">G</text>
<text transform="translate(817 1417) scale(1.37 1)">U</text>
<text transform="translate(778 1373) scale(1.37 1)">C</text>
<text transform="translate(740 1345) scale(1.37 1)">G</text>
<text transform="translate(700 1317) scale(1.37 1)">G</text>
<text transform="translate(662 1288) scale(1.37 1)">U</text>
<text transform="translate(623 1258) scale(1.37 1)">G</text>
<text transform="translate(583 1230) scale(1.37 1)">C</text>
<text transform="translate(543 1202) scale(1.37 1)">U</text>
<text transform="translate(460 1215) scale(1.37 1)">U</text>
<text transform="translate(406 1200) scale(1.37 1)">U</text>
<text transform="translate(366 1175) scale(1.37 1)">U</text>
</g>
<text class="dg" transform="translate(828 1503) scale(1.37 1)">dG = -38.10 1</text>
</g>
</svg>
</body></html>
